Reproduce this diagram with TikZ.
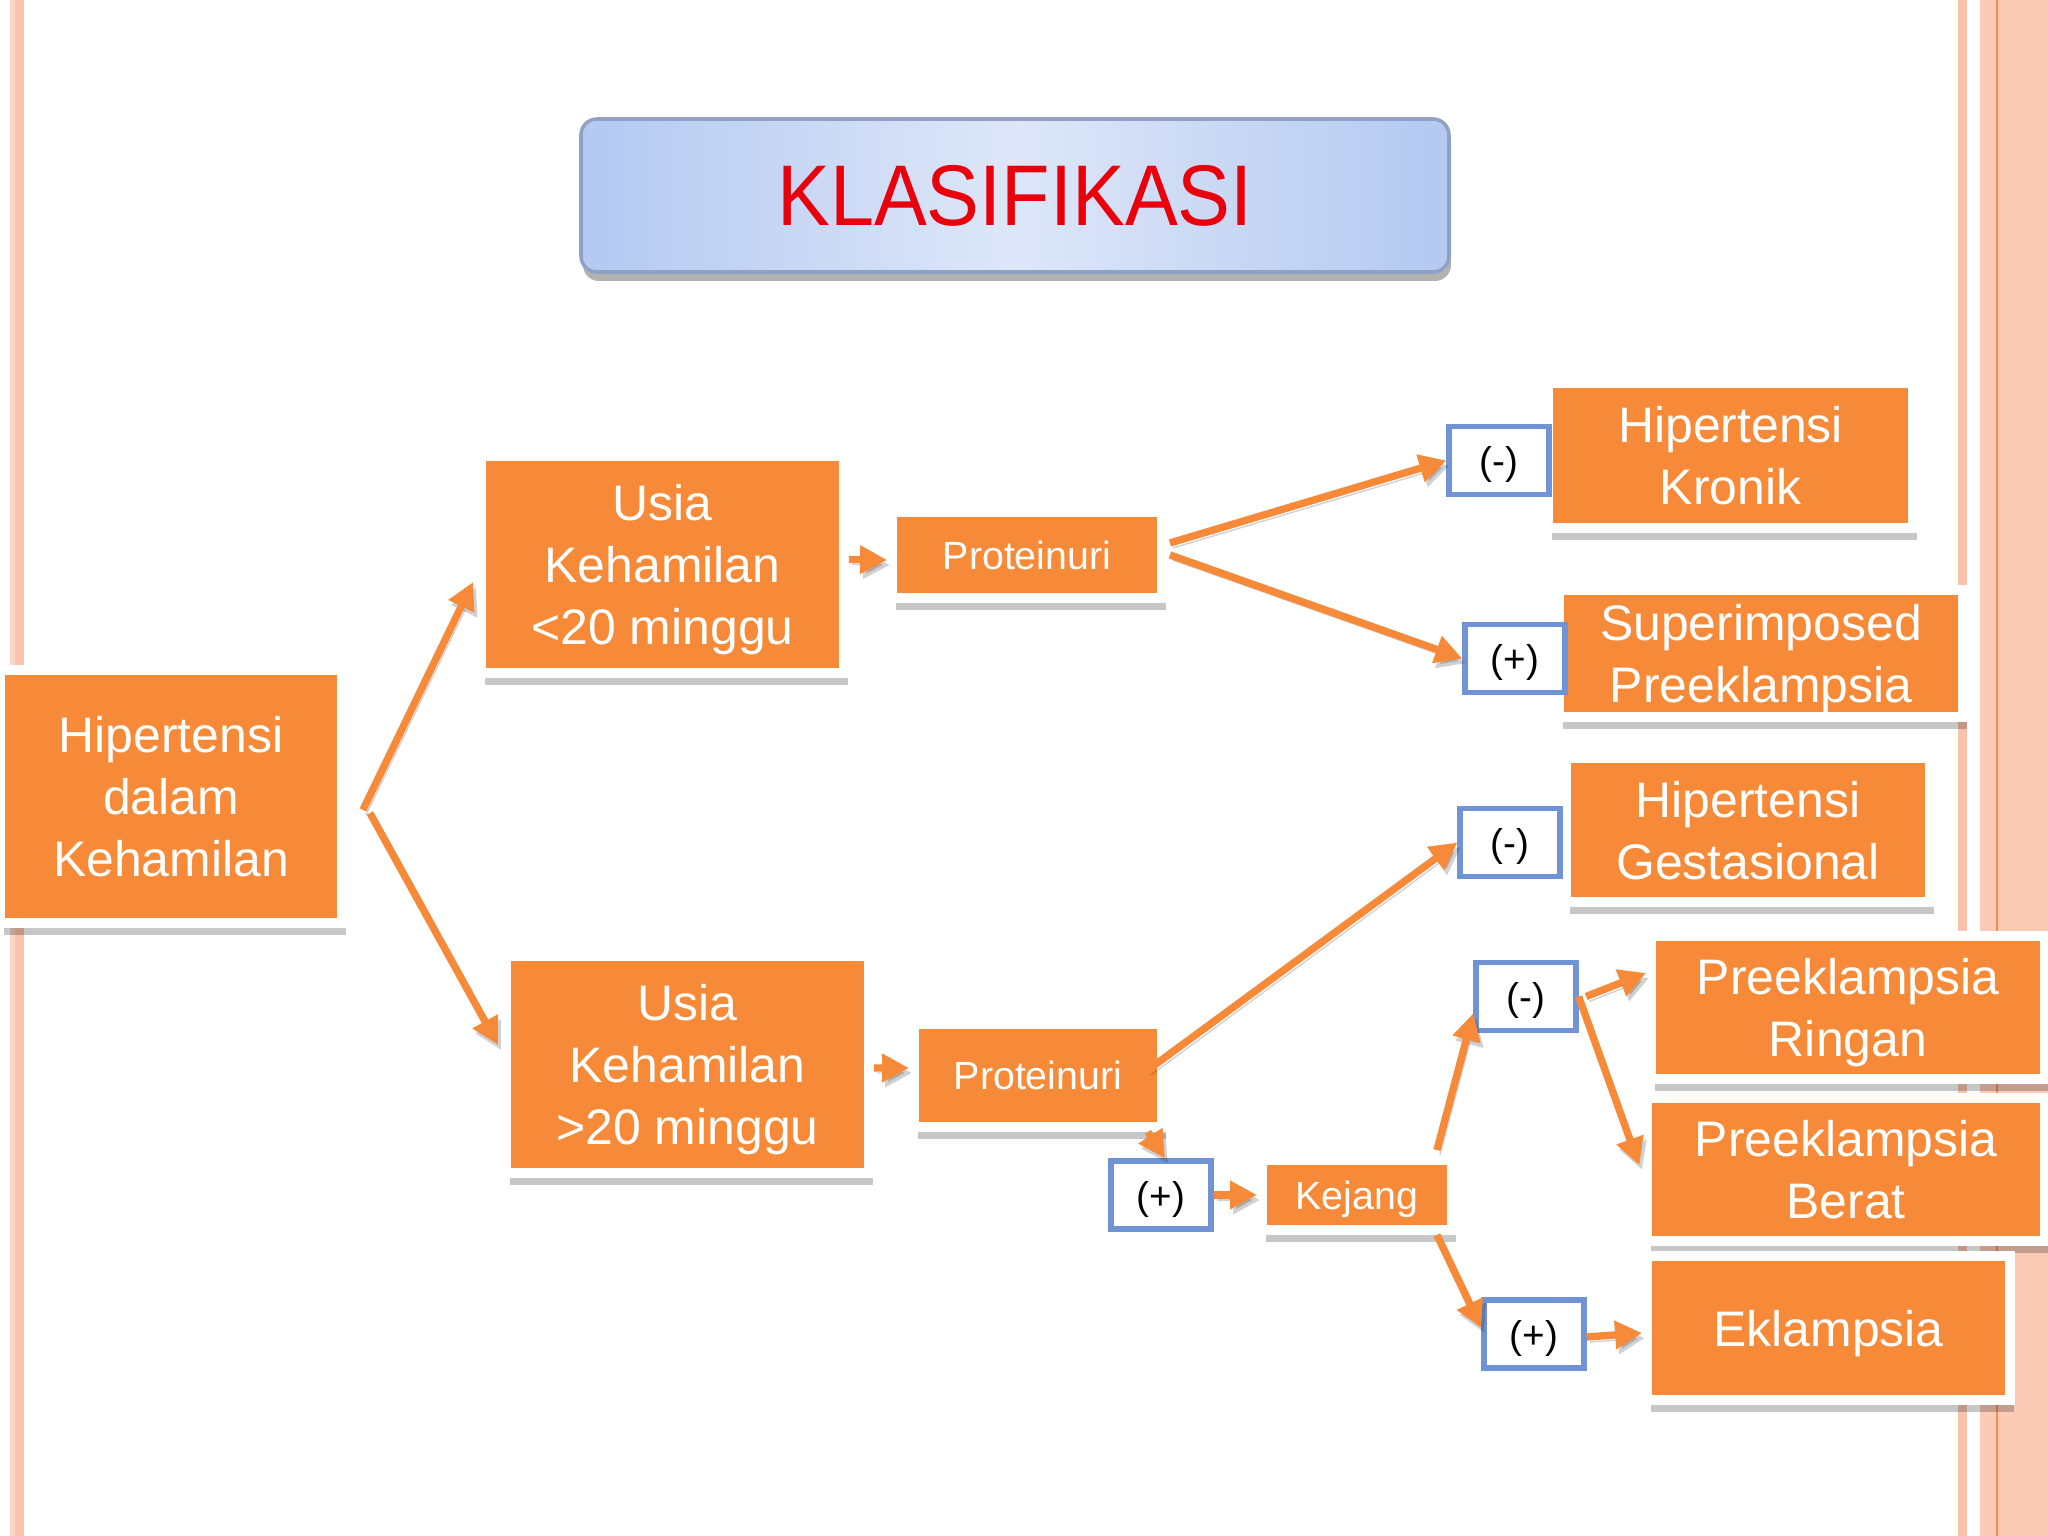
\documentclass[tikz,border=0pt]{standalone}
\usepackage{fontspec}
\setmainfont{Liberation Sans}
\newfontfamily\titlefont[FakeStretch=0.92]{Liberation Sans}
\usetikzlibrary{arrows.meta, positioning, calc, shadows}
\definecolor{orng}{HTML}{F68A38}
\definecolor{bluebd}{HTML}{7093D6}
\definecolor{stripe}{HTML}{F8C2AB}
\definecolor{stripelt}{HTML}{FBD5C5}
\definecolor{stripebg}{HTML}{FBCBB6}
\definecolor{stripedk}{HTML}{F58C57}
\definecolor{titlered}{HTML}{E8000C}
\definecolor{skyl}{HTML}{B4C8F1}
\definecolor{skym}{HTML}{DEE7F8}
\definecolor{titlebd}{HTML}{8FA2C6}
\tikzset{
  obox/.style={rectangle, fill=orng, draw=white, line width=2.8pt, text=white, align=center,
    font=\fontsize{14.2}{17.6}\selectfont, inner sep=0pt, text depth=0pt,
    drop shadow={shadow xshift=0.04cm, shadow yshift=-0.12cm, opacity=0.22, fill=black}},
  osmall/.style={obox, font=\fontsize{11.2}{13}\selectfont},
  sign/.style={rectangle, fill=white, draw=bluebd, line width=1.5pt, inner sep=0pt, text depth=0pt,
    font=\fontsize{11}{13}\selectfont, minimum width=1.0cm, minimum height=0.68cm},
  judul/.style={rectangle, rounded corners=0.16cm, draw=titlebd, line width=1pt,
    left color=skyl, right color=skyl, middle color=skym, text=titlered,
    font=\titlefont\fontsize{24.5}{28}\selectfont,
    drop shadow={shadow xshift=0.02cm, shadow yshift=-0.09cm, opacity=0.3, fill=black}},
  arrow/.style={-{Triangle[length=2.7mm, width=2.7mm]}, line width=2.1pt, orng,
    preaction={draw=black, opacity=0.18, transform canvas={xshift=0.03cm, yshift=-0.05cm}}},
}
\begin{document}
\begin{tikzpicture}
\useasboundingbox (0,0) rectangle (20.48,-15.36);
% page border stripes
\fill[stripelt] (0.10,0) rectangle (0.15,-15.36);
\fill[stripe] (0.15,0) rectangle (0.235,-15.36);
\fill[stripe] (19.58,0) rectangle (19.67,-15.36);
\fill[stripebg] (19.80,0) rectangle (20.48,-15.36);
\fill[stripedk] (19.955,0) rectangle (19.975,-15.36);

\node[judul, minimum width=8.68cm, minimum height=1.53cm] (title) at (10.15,-1.955) {KLASIFIKASI};

\node[obox, minimum width=3.42cm, minimum height=2.53cm] (hdk) at (1.71,-7.965) {Hipertensi\\dalam\\Kehamilan};
\node[obox, minimum width=3.63cm, minimum height=2.17cm] (usia1) at (6.625,-5.645) {Usia\\Kehamilan\\<20 minggu};
\node[obox, minimum width=3.63cm, minimum height=2.17cm] (usia2) at (6.875,-10.645) {Usia\\Kehamilan\\>20 minggu};
\node[osmall, minimum width=2.70cm, minimum height=0.86cm] (prot1) at (10.27,-5.55) {Proteinuri};
\node[osmall, minimum width=2.48cm, minimum height=1.03cm] (prot2) at (10.38,-10.755) {Proteinuri};
\node[osmall, minimum width=1.90cm, minimum height=0.70cm] (kejang) at (13.57,-11.95) {Kejang};

\node[obox, minimum width=3.65cm, minimum height=1.45cm] (kronik) at (17.305,-4.555) {Hipertensi\\Kronik};
\node[obox, minimum width=4.04cm, minimum height=1.27cm] (superimp) at (17.61,-6.535) {Superimposed\\Preeklampsia};
\node[obox, minimum width=3.64cm, minimum height=1.44cm] (gest) at (17.48,-8.30) {Hipertensi\\Gestasional};
\node[obox, minimum width=3.94cm, minimum height=1.43cm] (ringan) at (18.48,-10.075) {Preeklampsia\\Ringan};
\node[obox, minimum width=3.98cm, minimum height=1.43cm] (berat) at (18.46,-11.695) {Preeklampsia\\Berat};
\node[obox, minimum width=3.63cm, minimum height=1.44cm] (eklam) at (18.285,-13.28) {Eklampsia};

\node[sign] (neg1) at (14.99,-4.605) {(-)};
\node[sign] (pos1) at (15.15,-6.585) {(+)};
\node[sign] (neg2) at (15.10,-8.425) {(-)};
\node[sign] (neg3) at (15.26,-9.965) {(-)};
\node[sign] (pos2) at (11.61,-11.95) {(+)};
\node[sign] (pos3) at (15.34,-13.34) {(+)};

\draw[arrow] ([xshift=.16cm,yshift=-.135cm]hdk.east) -- ([xshift=-.03cm,yshift=-.175cm]usia1.west);
\draw[arrow] ([xshift=.23cm,yshift=-.165cm]hdk.east) -- ([xshift=-.03cm,yshift=.195cm]usia2.west);
\draw[arrow] ([yshift=.05cm]usia1.east) -- ([yshift=-.05cm]prot1.west);
\draw[arrow] ([yshift=-.035cm]usia2.east) -- ([yshift=.075cm]prot2.west);
\draw[arrow] ([xshift=.03cm,yshift=.12cm]prot1.east) -- (neg1.west);
\draw[arrow] ([xshift=.03cm]prot1.east) -- (pos1.west);
\draw[arrow] ([xshift=-.19cm,yshift=.055cm]prot2.east) -- (neg2.west);
\draw[arrow] ([xshift=-.19cm]prot2.south east) -- ([xshift=.04cm]pos2.north);
\draw[arrow] (pos2.east) -- (kejang.west);
\draw[arrow] ([xshift=-.2cm,yshift=.05cm]kejang.north east) -- ([yshift=.2cm]neg3.south west);
\draw[arrow] ([xshift=-.2cm]kejang.south east) -- ([yshift=.06cm]pos3.west);
\draw[arrow] ([xshift=.075cm]neg3.east) -- ([yshift=.345cm]ringan.west);
\draw[arrow] (neg3.east) -- ([xshift=-.03cm,yshift=.045cm]berat.west);
\draw[arrow] ([yshift=-.03cm]pos3.east) -- ([yshift=-.05cm]eklam.west);
\end{tikzpicture}
\end{document}
